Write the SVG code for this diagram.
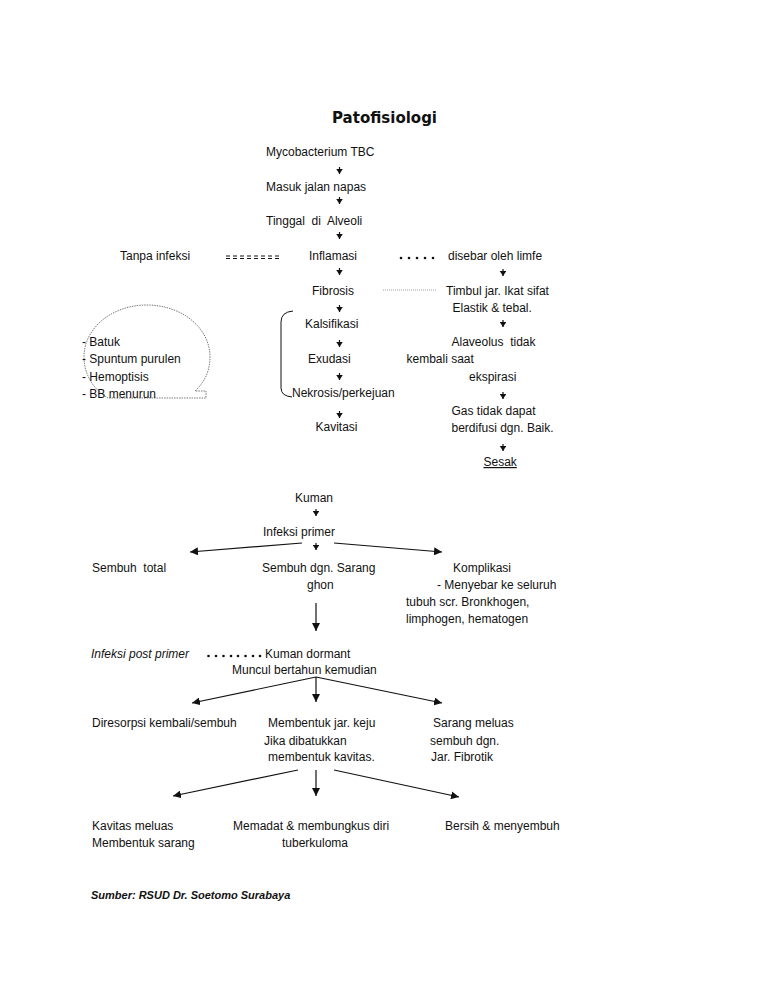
<svg xmlns="http://www.w3.org/2000/svg" width="768" height="994" viewBox="0 0 768 994">
<style>
text{font-family:"Liberation Sans",Arial,sans-serif;font-size:12px;fill:#111;white-space:pre}
.title{font-family:"DejaVu Sans",Verdana,sans-serif;font-weight:bold;font-size:15px}
.it{font-style:italic}
.src{font-weight:bold;font-style:italic;font-size:11px}
.u{text-decoration:underline}
.ar{stroke:#111;stroke-width:1.2;fill:none;marker-end:url(#ah)}
.sa{stroke:#111;stroke-width:1.2;fill:none;marker-end:url(#sh)}
.dot{fill:#111}
</style>
<defs>
<marker id="ah" markerUnits="userSpaceOnUse" markerWidth="10" markerHeight="8" refX="8" refY="4" orient="auto">
<path d="M0,0 L8,4 L0,8 Z" fill="#111"/>
</marker>
<marker id="sh" markerUnits="userSpaceOnUse" markerWidth="6" markerHeight="7" refX="5" refY="3.25" orient="auto">
<path d="M0,0 L5,3.25 L0,6.5 Z" fill="#111"/>
</marker>
</defs>
<rect width="768" height="994" fill="#fff"/>

<g id="title"><text class="title" x="332" y="122.5">Patofisiologi</text></g>

<g id="n-myco"><text x="266" y="156">Mycobacterium TBC</text></g>
<g id="n-masuk"><text x="266" y="190.5">Masuk jalan napas</text></g>
<g id="n-tinggal"><text x="266" y="225">Tinggal  di  Alveoli</text></g>
<g id="n-tanpa"><text x="120" y="260">Tanpa infeksi</text></g>
<g id="n-inflamasi"><text x="309" y="260">Inflamasi</text></g>
<g id="n-fibrosis"><text x="312" y="294.5">Fibrosis</text></g>
<g id="n-kalsifikasi"><text x="305" y="328">Kalsifikasi</text></g>
<g id="n-exudasi"><text x="308" y="362.5">Exudasi</text></g>
<g id="n-nekrosis"><text x="292" y="397">Nekrosis/perkejuan</text></g>
<g id="n-kavitasi"><text x="315.5" y="431">Kavitasi</text></g>

<g id="n-disebar"><text x="448" y="260">disebar oleh limfe</text></g>
<g id="n-timbul"><text x="446" y="295">Timbul jar. Ikat sifat</text><text x="452.5" y="312">Elastik &amp; tebal.</text></g>
<g id="n-alveolus"><text x="451.5" y="346">Alaveolus  tidak</text><text x="406.5" y="363">kembali saat</text><text x="469" y="380.5">ekspirasi</text></g>
<g id="n-gas"><text x="451.5" y="415">Gas tidak dapat</text><text x="451.5" y="432">berdifusi dgn. Baik.</text></g>
<g id="n-sesak"><text class="u" x="483.5" y="466">Sesak</text></g>

<g id="n-gejala">
<path d="M195 391 C205 382 210 370 210 357 C210 328 182 305 147 305 C112 305 84 328 84 357 C84 375 94 390 108 398 L206 398 L206 391 Z" fill="none" stroke="#7a7a7a" stroke-width="1" stroke-dasharray="1.5 1"/>
<text x="82" y="346">- Batuk</text>
<text x="82" y="362.5">- Spuntum purulen</text>
<text x="82" y="381">- Hemoptisis</text>
<text x="82" y="397.5">- BB menurun</text>
</g>

<g id="n-kuman"><text x="295" y="501.5">Kuman</text></g>
<g id="n-infeksi-primer"><text x="263" y="536">Infeksi primer</text></g>
<g id="n-sembuh-total"><text x="92" y="571.5">Sembuh  total</text></g>
<g id="n-sembuh-ghon"><text x="262" y="571.5">Sembuh dgn. Sarang</text><text x="307" y="588.5">ghon</text></g>
<g id="n-komplikasi"><text x="453" y="571.5">Komplikasi</text><text x="437" y="588.5">- Menyebar ke seluruh</text><text x="406" y="606">tubuh scr. Bronkhogen,</text><text x="406" y="623">limphogen, hematogen</text></g>
<g id="n-post-primer"><text class="it" x="91" y="657.5">Infeksi post primer</text></g>
<g id="n-dormant"><text x="265" y="657.5">Kuman dormant</text><text x="232" y="673.5">Muncul bertahun kemudian</text></g>
<g id="n-diresorpsi"><text x="92" y="726.5">Diresorpsi kembali/sembuh</text></g>
<g id="n-keju"><text x="268" y="726.5">Membentuk jar. keju</text><text x="264" y="744.5">Jika dibatukkan</text><text x="268" y="761">membentuk kavitas.</text></g>
<g id="n-sarang"><text x="433" y="726.5">Sarang meluas</text><text x="430" y="744.5">sembuh dgn.</text><text x="431" y="761">Jar. Fibrotik</text></g>
<g id="n-kavitas-meluas"><text x="92" y="829.5">Kavitas meluas</text><text x="92" y="847">Membentuk sarang</text></g>
<g id="n-memadat"><text x="233" y="829.5">Memadat &amp; membungkus diri</text><text x="282" y="847">tuberkuloma</text></g>
<g id="n-bersih"><text x="445" y="829.5">Bersih &amp; menyembuh</text></g>

<g id="source"><text class="src" x="91" y="899">Sumber: RSUD Dr. Soetomo Surabaya</text></g>

<g id="connectors">
<line class="sa" x1="339.5" y1="167" x2="339.5" y2="174"/>
<line class="sa" x1="339.5" y1="197" x2="339.5" y2="204"/>
<line class="sa" x1="339.5" y1="232" x2="339.5" y2="239"/>
<line class="sa" x1="339.5" y1="268" x2="339.5" y2="275"/>
<line class="sa" x1="339.5" y1="305" x2="339.5" y2="312"/>
<line class="sa" x1="339.5" y1="340" x2="339.5" y2="347"/>
<line class="sa" x1="339.5" y1="373" x2="339.5" y2="380"/>
<line class="sa" x1="339.5" y1="411" x2="339.5" y2="418"/>
<line class="sa" x1="503" y1="269" x2="503" y2="276"/>
<line class="sa" x1="503" y1="320" x2="503" y2="327"/>
<line class="sa" x1="503" y1="392" x2="503" y2="399"/>
<line class="sa" x1="503" y1="444" x2="503" y2="451"/>
<line x1="226" y1="256" x2="279" y2="256" stroke="#111" stroke-width="1" stroke-dasharray="4 3"/>
<line x1="226" y1="258.5" x2="279" y2="258.5" stroke="#111" stroke-width="1" stroke-dasharray="4 3"/>
<g class="dot"><circle cx="401" cy="258" r="1.3"/><circle cx="409" cy="258" r="1.3"/><circle cx="417" cy="258" r="1.3"/><circle cx="425" cy="258" r="1.3"/><circle cx="433" cy="258" r="1.3"/></g>
<line x1="383" y1="290" x2="437" y2="290" stroke="#888" stroke-width="0.8" stroke-dasharray="1 1"/>
<path d="M293 311 Q281 312 281 322 L281 388 Q281 396 292 397" fill="none" stroke="#111" stroke-width="1"/>

<line class="sa" x1="316" y1="509" x2="316" y2="516"/>
<line class="sa" x1="316" y1="543" x2="316" y2="550"/>
<line class="ar" x1="302" y1="543" x2="190" y2="552"/>
<line class="ar" x1="334" y1="543" x2="442" y2="552"/>
<line class="ar" x1="316" y1="603" x2="316" y2="631"/>
<g class="dot"><circle cx="208.5" cy="656" r="1.3"/><circle cx="216" cy="656" r="1.3"/><circle cx="223.5" cy="656" r="1.3"/><circle cx="231" cy="656" r="1.3"/><circle cx="238" cy="656" r="1.3"/><circle cx="245.5" cy="656" r="1.3"/><circle cx="253" cy="656" r="1.3"/><circle cx="260" cy="656" r="1.3"/></g>
<line class="ar" x1="316" y1="677" x2="192" y2="703"/>
<line class="ar" x1="316" y1="677" x2="316" y2="702"/>
<line class="ar" x1="316" y1="677" x2="442" y2="703"/>
<line class="ar" x1="298" y1="770" x2="173" y2="796"/>
<line class="ar" x1="316" y1="770" x2="316" y2="796"/>
<line class="ar" x1="334" y1="770" x2="459" y2="797"/>
</g>
</svg>
